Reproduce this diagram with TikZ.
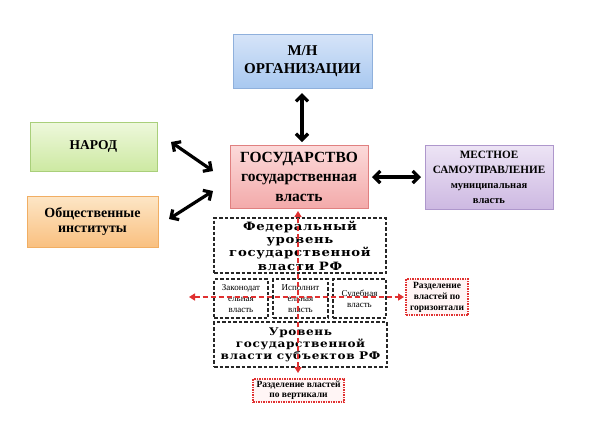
\documentclass[tikz,border=0pt]{standalone}
\usepackage{fontspec}
\setmainfont{Liberation Serif}
\newfontfamily\widefont[LetterSpace=6,FakeStretch=1.15]{DejaVu Serif}
\newcommand\narrowsp{\spaceskip=4.5pt\relax}
\usetikzlibrary{arrows.meta,shadows}
\definecolor{bluetop}{HTML}{D6E4F8}
\definecolor{bluebot}{HTML}{A8C8F0}
\definecolor{blueline}{HTML}{8FB0DC}
\definecolor{greentop}{HTML}{EEF8DC}
\definecolor{greenbot}{HTML}{CDE9A2}
\definecolor{greenline}{HTML}{A9CF7A}
\definecolor{orangetop}{HTML}{FDE6C6}
\definecolor{orangebot}{HTML}{F9C080}
\definecolor{orangeline}{HTML}{F1AE63}
\definecolor{pinktop}{HTML}{FCDADA}
\definecolor{pinkbot}{HTML}{F3AAAA}
\definecolor{pinkline}{HTML}{E08080}
\definecolor{lilactop}{HTML}{EDE4F5}
\definecolor{lilacbot}{HTML}{CDB9E2}
\definecolor{lilacline}{HTML}{AE97CC}
\definecolor{lablred}{HTML}{E03030}
\tikzset{
  colbox/.style={draw, line width=0.8pt, align=center, inner sep=2pt,
    drop shadow={shadow xshift=1.2pt, shadow yshift=-1.2pt, opacity=0.25, fill=black!60}},
  dashbox/.style={draw=black!85, line width=1.4pt, dash pattern=on 3.5pt off 2pt, align=center, inner sep=1pt},
  lablbox/.style={draw=lablred, fill=red!4, line width=1.1pt, dash pattern=on 1.5pt off 1pt, align=center, inner sep=1pt,
    font=\fontsize{9.5}{11}\selectfont\bfseries},
  bigarrow/.style={line width=3.2pt, {Straight Barb[length=6pt,width=12pt]}-{Straight Barb[length=6pt,width=12pt]}},
  redarrow/.style={draw=lablred, line width=1.6pt, dash pattern=on 5pt off 3pt, {Triangle[length=6pt,width=7pt]}-{Triangle[length=6pt,width=7pt]}},
  smalltext/.style={font=\fontsize{9}{11}\selectfont}
}
\begin{document}
\begin{tikzpicture}[x=1pt,y=-1pt]
\useasboundingbox (0,0) rectangle (598,432);
\fill[white] (0,0) rectangle (598,432);

\node[colbox, draw=blueline, top color=bluetop, bottom color=bluebot, minimum width=139pt, minimum height=54pt,
  font=\fontsize{15}{18.5}\selectfont\bfseries] (mh) at (302.5,61) {М/Н\\ОРГАНИЗАЦИИ};
\node[colbox, draw=greenline, top color=greentop, bottom color=greenbot, minimum width=127pt, minimum height=49pt,
  font=\fontsize{13.5}{15}\selectfont\bfseries] (narod) at (93.5,146.5) {НАРОД};
\node[colbox, draw=orangeline, top color=orangetop, bottom color=orangebot, minimum width=131pt, minimum height=51pt,
  font=\fontsize{14}{15.5}\selectfont\bfseries] (obsh) at (92.5,221.5) {Общественные\\институты};
\node[colbox, draw=pinkline, top color=pinktop, bottom color=pinkbot, minimum width=138pt, minimum height=63pt,
  font=\fontsize{15.5}{19.5}\selectfont\bfseries] (gos) at (299,176.5) {ГОСУДАРСТВО\\государственная\\власть};
\node[colbox, draw=lilacline, top color=lilactop, bottom color=lilacbot, minimum width=128pt, minimum height=64pt,
  font=\fontsize{11.2}{15}\selectfont\bfseries] (mest) at (489,177) {МЕСТНОЕ\\САМОУПРАВЛЕНИЕ\\{\fontsize{10.5}{15}\selectfont муниципальная}\\{\fontsize{10.5}{15}\selectfont власть}};

\node[dashbox, minimum width=172pt, minimum height=55pt, font=\widefont\bfseries\fontsize{11.5}{13.3}\selectfont\narrowsp] (fed) at (300,245.5)
  {Федеральный\\уровень\\государственной\\власти РФ};
\node[dashbox, minimum width=54pt, minimum height=39pt, smalltext] (z1) at (241,298.5) {Законодат\\ельная\\власть};
\node[dashbox, minimum width=55pt, minimum height=39pt, smalltext] (z2) at (300.5,298.5) {Исполнит\\ельная\\власть};
\node[dashbox, minimum width=53pt, minimum height=39pt, smalltext] (z3) at (359.5,298.5) {Судебная\\власть};
\node[dashbox, minimum width=173pt, minimum height=45pt, font=\widefont\bfseries\fontsize{10.5}{12}\selectfont\narrowsp] (sub) at (300.5,344.5)
  {Уровень\\государственной\\власти субъектов РФ};

\node[lablbox, minimum width=62pt, minimum height=36pt] (hlab) at (437,297) {Разделение\\властей по\\горизонтали};
\node[lablbox, minimum width=91pt, minimum height=23pt, font=\fontsize{9.5}{10}\selectfont\bfseries] (vlab) at (298.5,390.5) {Разделение властей\\по вертикали};

\coordinate (vtop) at (298,211);
\coordinate (vbot) at (298,373);
\coordinate (hl) at (189,297);
\coordinate (hr) at (404,297);
\draw[redarrow] (vbot) -- (vtop);
\draw[redarrow] (hl) -- (hr);

\coordinate (a1) at (302,93);
\coordinate (a2) at (302,142);
\draw[bigarrow] (a1) -- (a2);
\coordinate (b1) at (171,142);
\coordinate (b2) at (213,171);
\draw[bigarrow] (b1) -- (b2);
\coordinate (c1) at (169,219);
\coordinate (c2) at (213,191);
\draw[bigarrow] (c1) -- (c2);
\coordinate (d1) at (372,177);
\coordinate (d2) at (421,177);
\draw[bigarrow] (d1) -- (d2);
\end{tikzpicture}
\end{document}
